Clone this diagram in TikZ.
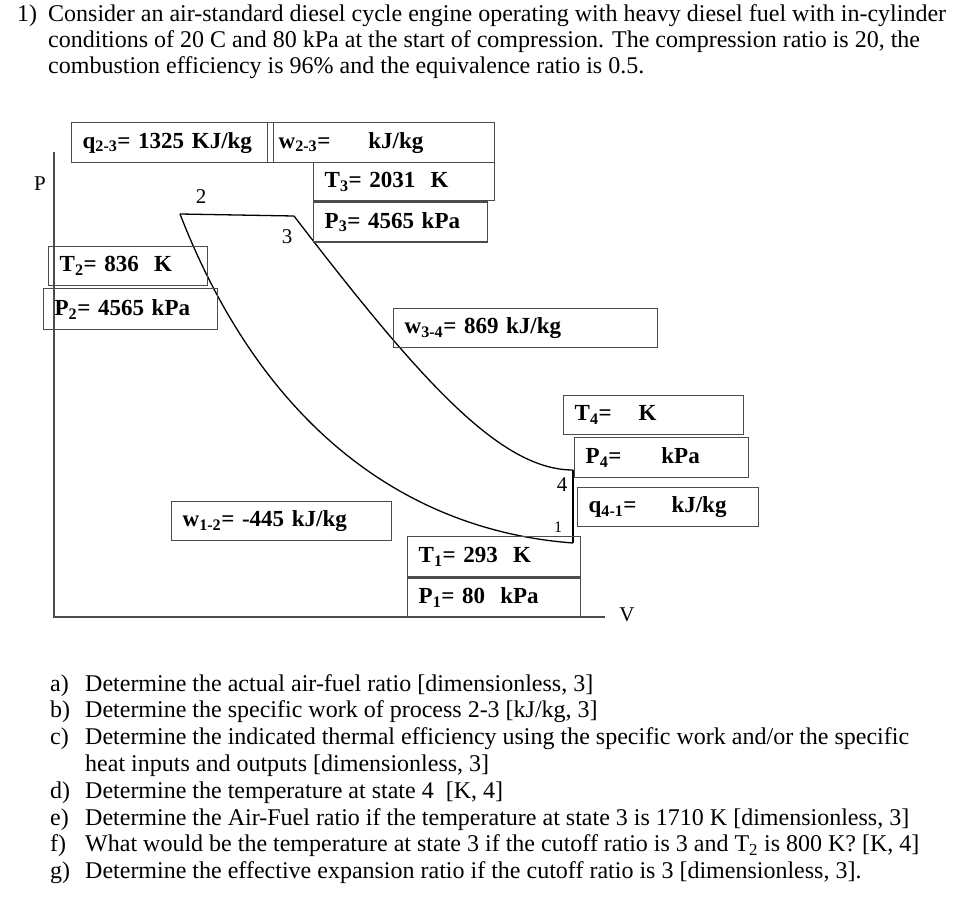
\documentclass[tikz,border=0pt]{standalone}
\usepackage{fontspec}
\setmainfont{Liberation Serif}
\usetikzlibrary{positioning}
\newcommand{\bodysize}{\fontsize{24}{27}\selectfont}
\newcommand{\boxsize}{\fontsize{23}{27}\selectfont\bfseries}

\begin{document}
\begin{tikzpicture}[
      x=1pt, y=-1pt,
      box/.style={
        draw=black!70,
        line width=1.4pt,
        anchor=north west,
        inner xsep=11pt,
        inner ysep=0pt,
        minimum height=40pt,
        align=left,
        font=\boxsize
      },
      axis/.style={draw=black!70, line width=2pt},
      curve/.style={line width=1.3pt},
      body/.style={anchor=base west, inner sep=0pt, font=\bodysize},
      num/.style={inner sep=0pt, font=\fontsize{21}{21}\selectfont}
    ]
      \useasboundingbox (0,0) rectangle (966,910);

      % problem statement
      \node[body] (head1) at (17,21) {\makebox[31pt][l]{1)}Consider an air-standard diesel cycle engine operating with heavy diesel fuel with in-cylinder};
      \node[body] (head2) at (48,47) {conditions of 20 C and 80 kPa at the start of compression. The compression ratio is 20, the};
      \node[body] (head3) at (48,73) {combustion efficiency is 96\% and the equivalence ratio is 0.5.};

      % axes
      \coordinate (ytop) at (54,152);
      \coordinate (orig) at (54,617);
      \coordinate (xend) at (605,617);
      \draw[axis] (ytop) -- (orig) -- (xend);
      \node[num] (plab) at (40,184) {P};
      \node[num] (vlab) at (627,615) {V};

      % states
      \coordinate (p1) at (573,543);
      \coordinate (p2) at (180,214);
      \coordinate (p3) at (294,216);
      \coordinate (p4) at (573,470);

      \draw[curve] (p2) -- (p3);
      \draw[curve] (p3) .. controls (420,380) and (500,470) .. (p4);
      \draw[curve] (p4) -- (p1);
      \draw[curve] (p1) .. controls (400,530) and (260,420) .. (p2);

      \node[num] (n2) at (201,197) {2};
      \node[num] (n3) at (287,237) {3};
      \node[num] (n4) at (562,485) {4};
      \node[num, font=\fontsize{16}{16}\selectfont] (n1) at (558,527) {1};

      % value boxes
      \node[box, text width=180pt] (q23) at (71,122) {q\textsubscript{2-3}= 1325 KJ/kg};
      \node[box, text width=205pt] (w23) at (267,122) {w\textsubscript{2-3}=\hspace{38pt}kJ/kg};
      \node[box, text width=159pt, minimum height=38pt] (t3) at (313,162) {T\textsubscript{3}= 2031\ \ K};
      \node[box, text width=152pt, below=0pt of t3.south west, anchor=north west] (pr3) {P\textsubscript{3}= 4565 kPa};

      \node[box, text width=137pt, minimum height=39pt] (t2) at (48,246) {T\textsubscript{2}= 836\ \ K};
      \node[box, text width=152pt, minimum height=41pt] (pr2) at (43,288) {P\textsubscript{2}= 4565 kPa};

      \node[box, text width=242pt, minimum height=39pt] (w34) at (393,308) {w\textsubscript{3-4}= 869 kJ/kg};

      \node[box, text width=158pt, minimum height=39pt] (t4) at (563,395) {T\textsubscript{4}=\hspace{27pt}K};
      \node[box, text width=152pt] (pr4) at (574,437) {P\textsubscript{4}=\hspace{40pt}kPa};
      \node[box, text width=159pt, minimum height=39pt] (q41) at (577,487) {q\textsubscript{4-1}=\hspace{35pt}kJ/kg};

      \node[box, text width=198pt, minimum height=39pt] (w12) at (171,501) {w\textsubscript{1-2}= -445 kJ/kg};

      \node[box, text width=151pt] (t1) at (407,536) {T\textsubscript{1}= 293\ \ K};
      \node[box, text width=151pt, minimum height=39pt, below=0pt of t1.south west, anchor=north west] (pr1) {P\textsubscript{1}= 80\ \ kPa};

      % questions
      \node[body] (qa) at (50,691) {\makebox[35pt][l]{a)}Determine the actual air-fuel ratio [dimensionless, 3]};
      \node[body] (qb) at (50,717.8) {\makebox[35pt][l]{b)}Determine the specific work of process 2-3 [kJ/kg, 3]};
      \node[body] (qc) at (50,744.6) {\makebox[35pt][l]{c)}Determine the indicated thermal efficiency using the specific work and/or the specific};
      \node[body] (qc2) at (85,771.4) {heat inputs and outputs [dimensionless, 3]};
      \node[body] (qd) at (50,798.2) {\makebox[35pt][l]{d)}Determine the temperature at state 4\ \ [K, 4]};
      \node[body] (qe) at (50,825) {\makebox[35pt][l]{e)}Determine the Air-Fuel ratio if the temperature at state 3 is 1710 K [dimensionless, 3]};
      \node[body] (qf) at (50,851.8) {\makebox[35pt][l]{f)}What would be the temperature at state 3 if the cutoff ratio is 3 and T\textsubscript{2} is 800 K? [K, 4]};
      \node[body] (qg) at (50,878.6) {\makebox[35pt][l]{g)}Determine the effective expansion ratio if the cutoff ratio is 3 [dimensionless, 3].};
    \end{tikzpicture}
\end{document}
